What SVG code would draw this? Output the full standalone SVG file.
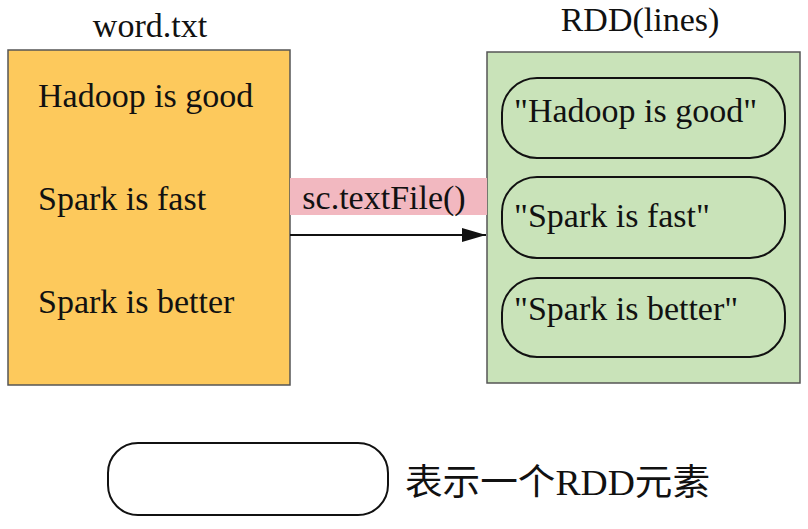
<svg xmlns="http://www.w3.org/2000/svg" width="808" height="529" viewBox="0 0 808 529">
<defs>
<style>
text{font-family:"Liberation Serif","Noto Sans CJK SC",serif;font-size:34px;fill:#111}
.el{fill:none;stroke:#111;stroke-width:2}
</style>
<marker id="ah" markerWidth="24" markerHeight="14" refX="24" refY="7" orient="auto" markerUnits="userSpaceOnUse">
<path d="M0,0 L24,7 L0,14 Z" fill="#111"/>
</marker>
</defs>
<rect width="808" height="529" fill="#fff"/>
<g id="word">
<text x="150" y="37" text-anchor="middle">word.txt</text>
<rect x="8" y="50" width="282" height="335" fill="#FDC95C" stroke="#555" stroke-width="1.5"/>
<text x="38" y="107">Hadoop is good</text>
<text x="38" y="210">Spark is fast</text>
<text x="38" y="313">Spark is better</text>
</g>
<g id="rdd">
<text x="640" y="31" text-anchor="middle">RDD(lines)</text>
<rect x="487" y="52" width="313" height="331" fill="#C9E3B9" stroke="#555" stroke-width="1.5"/>
<rect class="el" x="502" y="78" width="283" height="80" rx="35"/>
<text x="514" y="122">"Hadoop is good"</text>
<rect class="el" x="502" y="177" width="283" height="81" rx="35"/>
<text x="514" y="227">"Spark is fast"</text>
<rect class="el" x="502" y="278" width="283" height="79" rx="35"/>
<text x="514" y="320">"Spark is better"</text>
</g>
<g id="connectors">
<rect x="290" y="178" width="197" height="37" fill="#F2B8C0"/>
<text x="384" y="209" text-anchor="middle">sc.textFile()</text>
<line x1="290" y1="235" x2="486" y2="235" stroke="#111" stroke-width="2" marker-end="url(#ah)"/>
</g>
<g id="legend">
<rect class="el" x="108" y="443" width="280" height="72" rx="30"/>
<text x="405" y="495" style="font-size:36px" textLength="305" lengthAdjust="spacingAndGlyphs">表示一个RDD元素</text>
</g>
</svg>
